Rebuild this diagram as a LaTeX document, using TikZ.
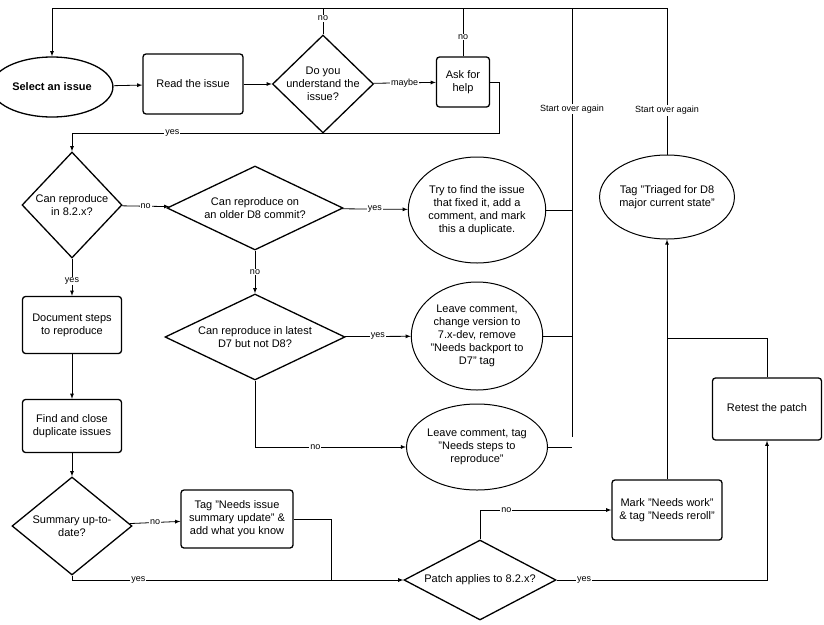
\documentclass[tikz,border=0pt]{standalone}
\usepackage{fontspec}
\setmainfont{Liberation Sans}
\usetikzlibrary{positioning}
\usetikzlibrary{shapes.geometric}

\begin{document}
\begin{tikzpicture}[x=1pt,y=-1pt,>=latex,font=\fontsize{11}{13}\selectfont,
    box/.style={draw,line width=1.3pt,rounded corners=3pt,align=center,inner sep=1pt},
    choice/.style={draw,diamond,line width=1.3pt,align=center,inner xsep=-22pt,inner ysep=-6pt},
    action/.style={draw,ellipse,line width=1pt,align=center,inner sep=0pt},
    lbl/.style={fill=white,inner sep=1pt,font=\fontsize{9}{10}\selectfont},
    every path/.style={line width=0.8pt}]
        % \draw[help lines] (0,0) grid (824,624);
      \useasboundingbox (0,0) rectangle (824,624);

      \node[draw,ellipse,line width=1.3pt,minimum width=100,minimum height=60,font=\fontsize{11}{13}\selectfont\bfseries] (sel) at (52,87) {Select an issue};
      \node[box,minimum width=100,minimum height=60]   (read) at (193,84)  {Read the issue};
      \node[choice,minimum width=101,minimum height=98] (und) at (323,84) {Do you\\understand the\\issue?};
      \node[box,minimum width=53,minimum height=50]    (ask)  at (463,82)  {Ask for\\help};

      \node[choice,minimum width=100,minimum height=106] (can8) at (72,205) {Can reproduce\\in 8.2.x?};
      \node[box,minimum width=99,minimum height=57]    (doc)  at (72,325)  {Document steps\\to reproduce};
      \node[box,minimum width=99,minimum height=53]    (find) at (72,426)  {Find and close\\duplicate issues};
      \node[choice,minimum width=120,minimum height=98] (sum) at (72,526) {Summary up-to-\\date?};
      \node[box,minimum width=112,minimum height=58]   (tag)  at (237,519) {Tag "Needs issue\\summary update" \&\\add what you know};

      \node[choice,minimum width=176,minimum height=84] (old) at (255,208) {Can reproduce on\\an older D8 commit?};
      \node[choice,minimum width=180,minimum height=86] (lat) at (255,337) {Can reproduce in latest\\D7 but not D8?};
      \node[action,minimum width=120,minimum height=106] (fix)  at (477,210) {Try to find the issue\\that fixed it, add a\\comment, and mark\\this a duplicate.};
      \node[action,minimum width=120,minimum height=108] (d7)   at (477,336) {Leave comment,\\change version to\\7.x-dev, remove\\"Needs backport to\\D7" tag};
      \node[action,minimum width=120,minimum height=86]  (stp)  at (477,447) {Leave comment, tag\\"Needs steps to\\reproduce"};

      \node[choice,minimum width=152,minimum height=80] (pat)  at (480,580) {Patch applies to 8.2.x?};
      \node[box,minimum width=110,minimum height=60]   (mark) at (667,510) {Mark "Needs work"\\\& tag "Needs reroll"};
      \node[action,minimum width=120,minimum height=84]  (tri)  at (667,197) {Tag "Triaged for D8\\major current state"};
      \node[box,minimum width=109,minimum height=62]   (ret)  at (767,409) {Retest the patch};

      \coordinate (top) at (667,8);
      \coordinate (over) at (572,8);
      \coordinate (yl) at (0,133);

      \draw[->] (sel) -- (read);
      \draw[->] (read) -- (und);
      \draw[->] (und) -- node[lbl] {maybe} (ask);
      \draw (und.north) -- node[lbl,pos=0.6] {no} (und.north |- top);
      \draw (ask.north) -- node[lbl,pos=0.4] {no} (ask.north |- top);
      \draw[->] (top) -- (sel.north |- top) -- (sel.north);
      \draw (ask.east) -- ++(9,0) |- (und.south |- yl);
      \draw[->] (und.south) -- (und.south |- yl) -- node[lbl,pos=0.6] {yes} (can8.north |- yl) -- (can8.north);

      \draw[->] (can8) -- node[lbl] {no} (old);
      \draw[->] (can8) -- node[lbl,pos=0.6] {yes} (doc);
      \draw[->] (doc) -- (find);
      \draw[->] (find) -- (sum);
      \draw[->] (sum) -- node[lbl] {no} (tag);
      \draw[->] (sum.south) |- node[lbl,pos=0.6] {yes} (pat.west);
      \draw (tag.east) -| (331,580);

      \draw[->] (old) -- node[lbl] {yes} (fix);
      \draw[->] (old) -- node[lbl] {no} (lat);
      \draw[->] (lat) -- node[lbl] {yes} (d7);
      \draw[->] (lat.south) |- node[lbl,pos=0.7] {no} (stp.west);
      \draw (fix.east) -- (fix.east -| over);
      \draw (d7.east) -- (d7.east -| over);
      \draw (stp.east) -- (stp.east -| over);
      \draw (over) -- node[lbl,pos=0.235] {Start over again} (572,437);

      \draw[->] (pat.north) |- node[lbl,pos=0.6] {no} (mark.west);
      \draw[->] (pat.east) -- node[lbl,pos=0.13] {yes} (ret.south |- pat.east) -- (ret.south);
      \draw[->] (mark.north) -- (tri.south);
      \draw (ret.north) |- (667,338);
      \draw (tri.north) -- node[lbl,pos=0.3] {Start over again} (top);
    \end{tikzpicture}
\end{document}
